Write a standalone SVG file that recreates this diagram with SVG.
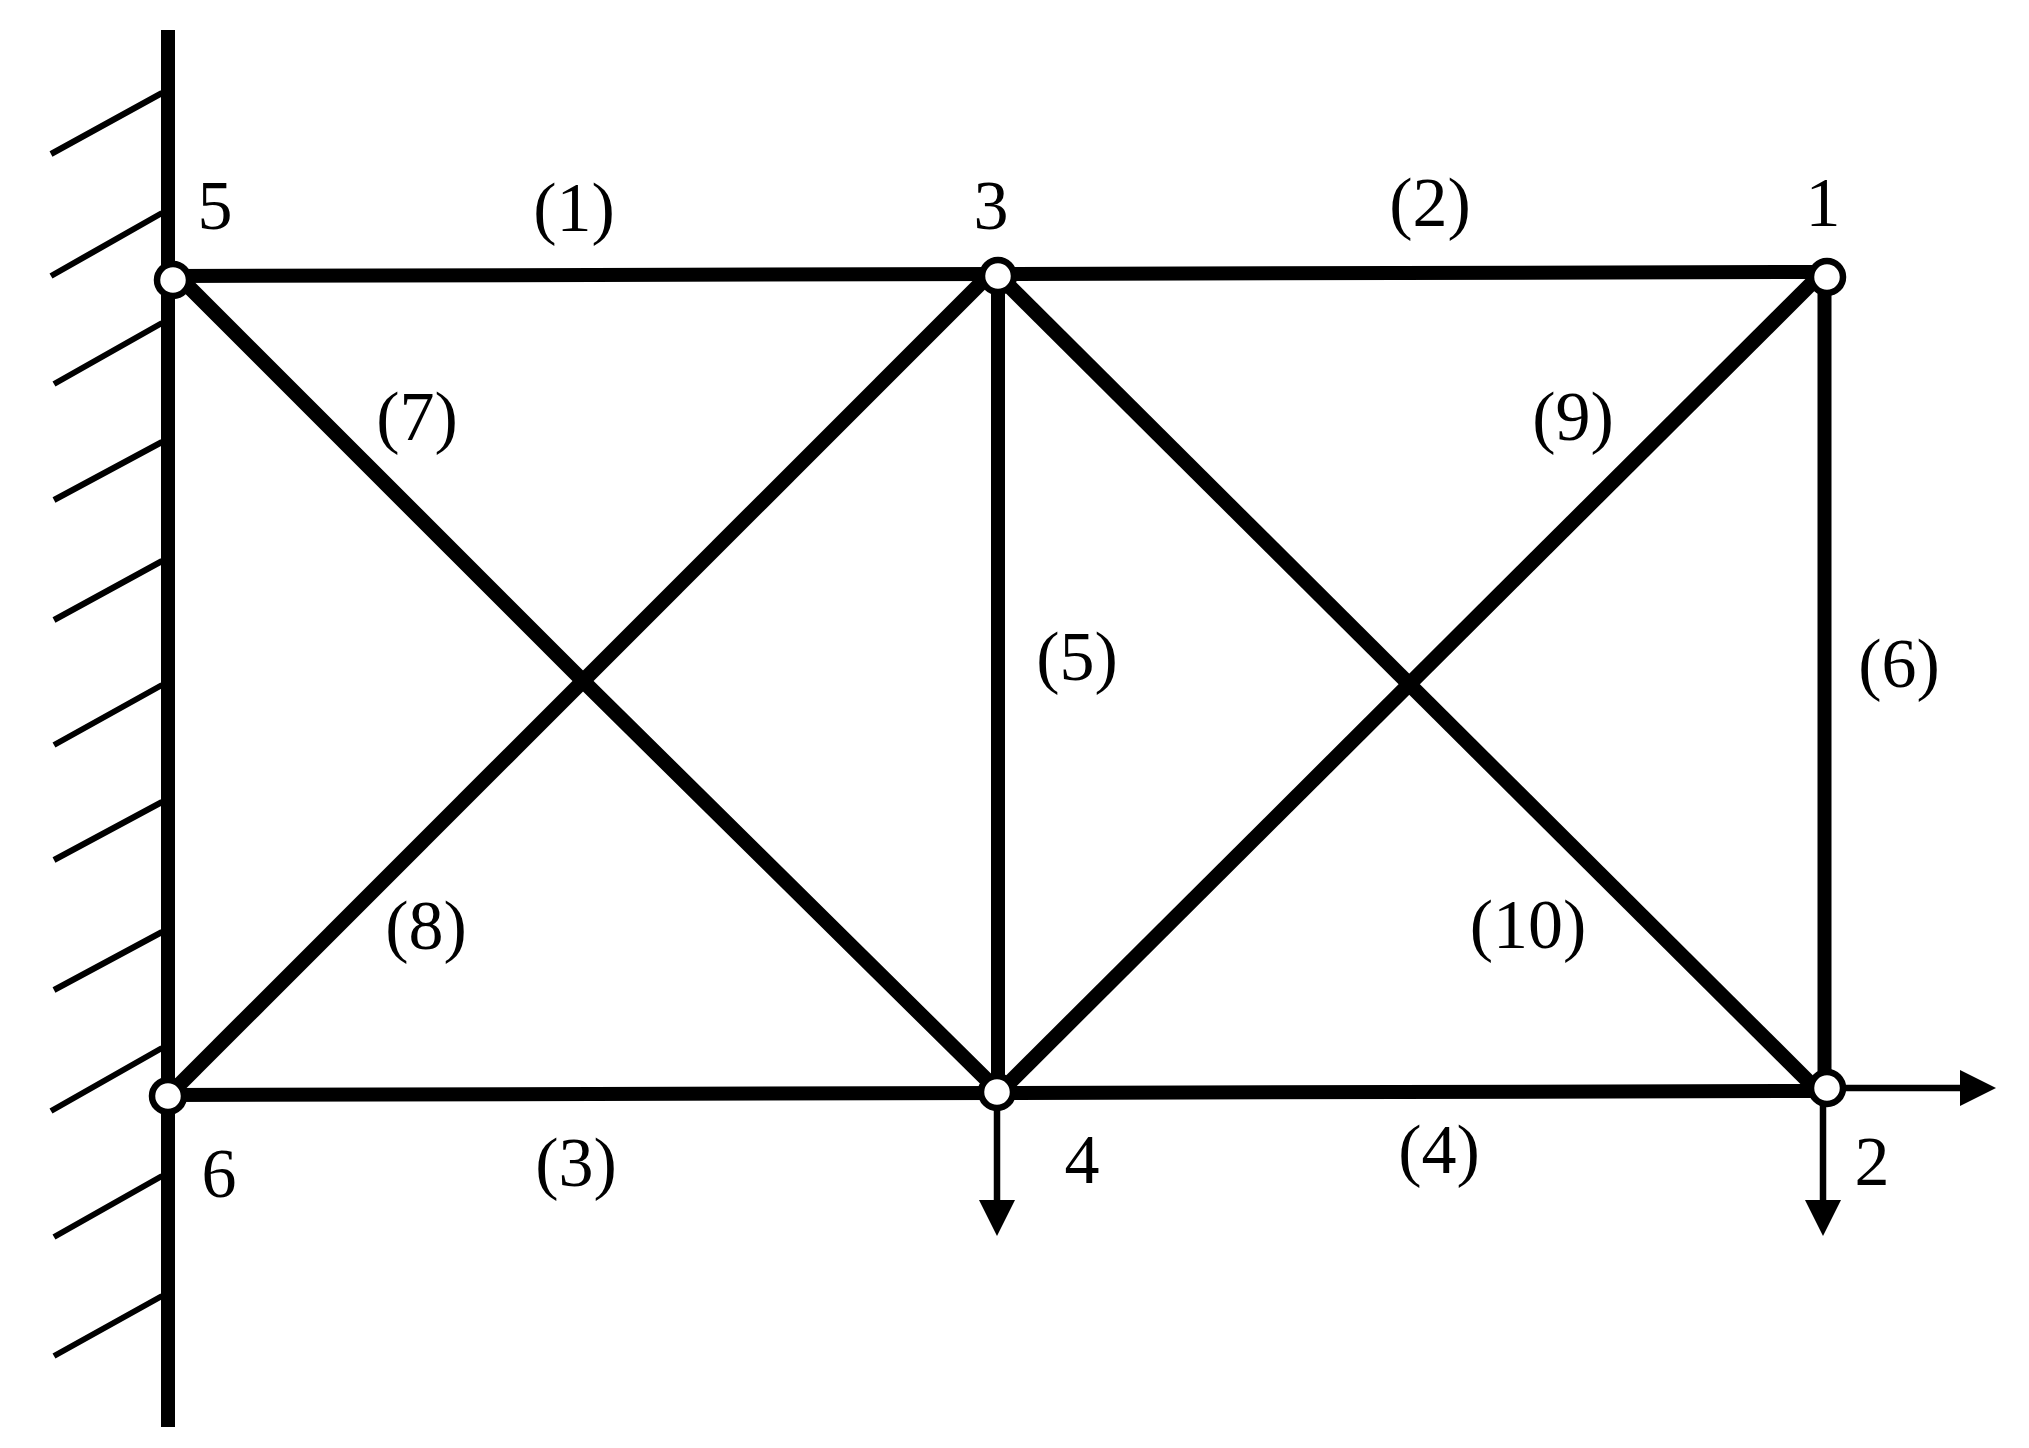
<svg xmlns="http://www.w3.org/2000/svg" width="2029" height="1448" viewBox="0 0 2029 1448">
<style>
.m{fill:none;stroke:#000;stroke-width:14;stroke-linejoin:round}
.d{fill:none;stroke:#000;stroke-width:15;stroke-linejoin:round}
.h{fill:none;stroke:#000;stroke-width:6}
.a{fill:none;stroke:#000;stroke-width:6.5}
.n{fill:#fff;stroke:#000;stroke-width:6.500}
text{font-family:"Liberation Serif","Times New Roman",serif;font-size:70px;fill:#000;text-anchor:middle}
</style>
<defs>
<marker id="head" markerUnits="userSpaceOnUse" markerWidth="36" markerHeight="36" refX="0" refY="18" orient="auto" viewBox="0 0 36 36"><path d="M0 0L36 18L0 36Z" fill="#000"/></marker>
</defs>
<rect width="2029" height="1448" fill="#fff"/>
<g id="wall">
<path class="m" d="M168 30V1427"/>
<path class="h" d="M51 154L162 93M51 276L162 213M54 384L162 323M54 500L162 442M54 620L162 561M54 745L162 685M54 860L162 802M54 990L162 932M51 1111L162 1048M54 1237L162 1176M54 1356L162 1296"/>
</g>
<g id="connectors">
<path class="m" d="M172 276L999 274L1827 272"/>
<path class="m" d="M168 1095L997 1093L1827 1091"/>
<path class="m" d="M998 276V1093"/>
<path class="m" d="M1824.500 272V1091"/>
<path class="d" d="M178 276L583 681L992 1085"/>
<path class="d" d="M167 1097L990 274"/>
<path class="d" d="M1000 277L1820 1093"/>
<path class="d" d="M1822 273L1000 1092"/>
<path class="a" d="M997 1093V1200" marker-end="url(#head)"/>
<path class="a" d="M1823 1090V1200" marker-end="url(#head)"/>
<path class="a" d="M1828 1088H1960" marker-end="url(#head)"/>
</g>
<g id="node5"><circle class="n" cx="173" cy="280" r="16"/><text x="215" y="229">5</text></g>
<g id="node3"><circle class="n" cx="998" cy="276" r="16"/><text x="991" y="229">3</text></g>
<g id="node1"><circle class="n" cx="1827" cy="277" r="16"/><text x="1823" y="226">1</text></g>
<g id="node6"><circle class="n" cx="168" cy="1096" r="16"/><text x="219" y="1197">6</text></g>
<g id="node4"><circle class="n" cx="997" cy="1092" r="16"/><text x="1082" y="1183">4</text></g>
<g id="node2"><circle class="n" cx="1827" cy="1088" r="16"/><text x="1872" y="1185">2</text></g>
<g id="member-labels">
<text x="574" y="231">(1)</text>
<text x="1430" y="226">(2)</text>
<text x="576" y="1186">(3)</text>
<text x="1439" y="1173">(4)</text>
<text x="1077" y="680">(5)</text>
<text x="1899" y="687">(6)</text>
<text x="417" y="440">(7)</text>
<text x="426" y="949">(8)</text>
<text x="1573" y="440">(9)</text>
<text x="1528" y="948">(10)</text>
</g>
</svg>
